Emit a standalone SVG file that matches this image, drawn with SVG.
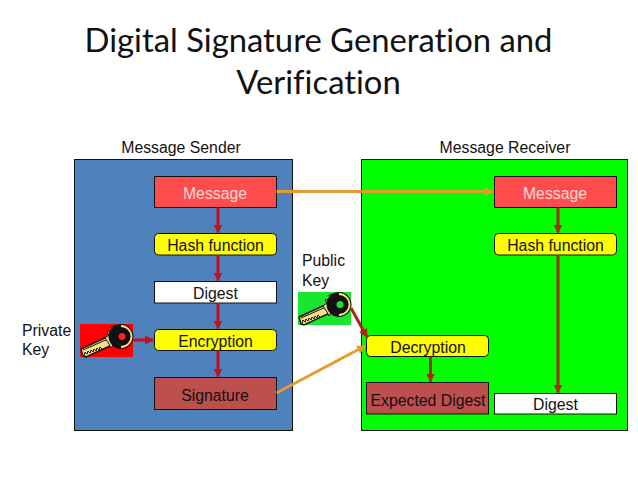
<svg xmlns="http://www.w3.org/2000/svg" xmlns:xlink="http://www.w3.org/1999/xlink" width="638" height="479" viewBox="0 0 638 479">
<style>
text{font-family:"Liberation Sans",Arial,sans-serif;font-size:15.800px;fill:#111;text-anchor:middle}
.title{font-family:Lato,"Open Sans",sans-serif;font-size:32.800px;fill:#111;font-variant-ligatures:none}
.lab{text-anchor:start}
.box{stroke:#111;stroke-width:1}
.red{stroke:#c4101e;stroke-width:3;fill:none}
.dred{stroke:#a92a10;stroke-width:3;fill:none}
.org{stroke:#e69c2c;stroke-width:3;fill:none}
.msg{fill:#ff4d4d}.hash{fill:#ffff00}.dig{fill:#fff}.sig{fill:#bd4f4f}
.msgt{fill:#ffd8d8}
</style>
<defs>
<marker id="ar" markerWidth="10" markerHeight="10" refX="8" refY="4.500" orient="auto" markerUnits="userSpaceOnUse"><path d="M0 0L9 4.500L0 9Z" fill="#c4101e"/></marker>
<marker id="ad" markerWidth="10" markerHeight="10" refX="8" refY="4.500" orient="auto" markerUnits="userSpaceOnUse"><path d="M0 0L9 4.500L0 9Z" fill="#a92a10"/></marker>
<marker id="ao" markerWidth="10" markerHeight="10" refX="8" refY="4.500" orient="auto" markerUnits="userSpaceOnUse"><path d="M0 0L9 4.500L0 9Z" fill="#e69c2c"/></marker>
<g id="key">
<path d="M1 24L27 12L32 20L6 32L3 31Z" fill="#f5e08a" stroke="#111" stroke-width="1.500"/>
<path d="M3 25L28 14" fill="none" stroke="#111" stroke-width="1"/>
<path d="M4 31l1-4 2 2 1-3 2 2 1-3 2 2 1-3 2 2 1-3 2 2 1-3 2 2" fill="none" stroke="#111" stroke-width="1"/>
<path d="M25 13L29 10L27 7L32 6L31 2L36 1L36 23L33 20L31 23L29 19Z" fill="#f5e08a" stroke="#111" stroke-width="1"/>
<circle cx="41" cy="11.500" r="12.500" fill="#111"/>
<path d="M41 1A10.500 10.500 0 0 1 41 22" fill="none" stroke="#f5e08a" stroke-width="1.800"/>
</g>
</defs>
<rect width="638" height="479" fill="#fff"/>
<text class="title" x="318.500" y="52">Digital Signature Generation and</text>
<text class="title" x="318.500" y="94">Verification</text>

<g id="sender"><rect x="74.500" y="159.500" width="218" height="271" fill="#4f81bd" stroke="#111"/><text x="181" y="152.500">Message Sender</text></g>
<g id="receiver"><rect x="361.500" y="159.500" width="266" height="271" fill="#00ff00" stroke="#111"/><text x="505" y="152.500">Message Receiver</text></g>

<g id="s-message"><rect class="box msg" x="154.500" y="176.500" width="122" height="31"/><text class="msgt" x="215" y="198.500">Message</text></g>
<g id="s-hash"><rect class="box hash" x="154.500" y="233.500" width="122" height="21.500" rx="4"/><text x="215.500" y="251">Hash function</text></g>
<g id="s-digest"><rect class="box dig" x="154.500" y="281.500" width="122" height="21.500"/><text x="215.500" y="299">Digest</text></g>
<g id="s-encryption"><rect class="box hash" x="154.500" y="329.500" width="122" height="21" rx="4"/><text x="215.500" y="347">Encryption</text></g>
<g id="s-signature"><rect class="box sig" x="154.500" y="377.500" width="122" height="32"/><text x="215" y="400.500">Signature</text></g>

<g id="r-message"><rect class="box msg" x="494.500" y="176.500" width="122" height="31"/><text class="msgt" x="555" y="198.500">Message</text></g>
<g id="r-hash"><rect class="box hash" x="494.500" y="233.500" width="122" height="21.500" rx="4"/><text x="555.500" y="251">Hash function</text></g>
<g id="r-digest"><rect class="box dig" x="494.500" y="393.500" width="122" height="20.500"/><text x="555.500" y="410">Digest</text></g>
<g id="r-decryption"><rect class="box hash" x="366.500" y="335.500" width="122" height="21" rx="4"/><text x="428" y="352.500">Decryption</text></g>
<g id="r-expected"><rect class="box sig" x="366.500" y="382.500" width="122" height="31.500"/><text x="428" y="405.500">Expected Digest</text></g>

<g id="private-key"><rect x="80" y="324" width="53" height="33" fill="#ff0000"/><use xlink:href="#key" href="#key" x="80" y="325"/><circle cx="122" cy="336.500" r="3.500" fill="#ff2020"/><text class="lab" x="22" y="336">Private</text><text class="lab" x="22" y="355">Key</text></g>
<g id="public-key"><rect x="298" y="292" width="53" height="33" fill="#19e62e"/><use xlink:href="#key" href="#key" x="298" y="293"/><circle cx="340" cy="304.500" r="3.500" fill="#19e62e"/><text class="lab" x="302" y="266">Public</text><text class="lab" x="302" y="286">Key</text></g>

<g id="connectors">
<path class="red" d="M218 207.500V232.500" marker-end="url(#ar)"/>
<path class="red" d="M218 255V280.500" marker-end="url(#ar)"/>
<path class="red" d="M218 303V328.500" marker-end="url(#ar)"/>
<path class="red" d="M218 350.500V376.500" marker-end="url(#ar)"/>
<path class="red" d="M133 340H153" marker-end="url(#ar)"/>
<path class="dred" d="M558 207.500V232.500" marker-end="url(#ad)"/>
<path class="dred" d="M558 255V392.500" marker-end="url(#ad)"/>
<path class="dred" d="M430.500 356.500V381.500" marker-end="url(#ad)"/>
<path class="dred" d="M351 308L367 337" marker-end="url(#ad)"/>
<path class="org" d="M276.500 191.500H493" marker-end="url(#ao)"/>
<path class="org" d="M276.500 393L365 346" marker-end="url(#ao)"/>
</g>
</svg>
